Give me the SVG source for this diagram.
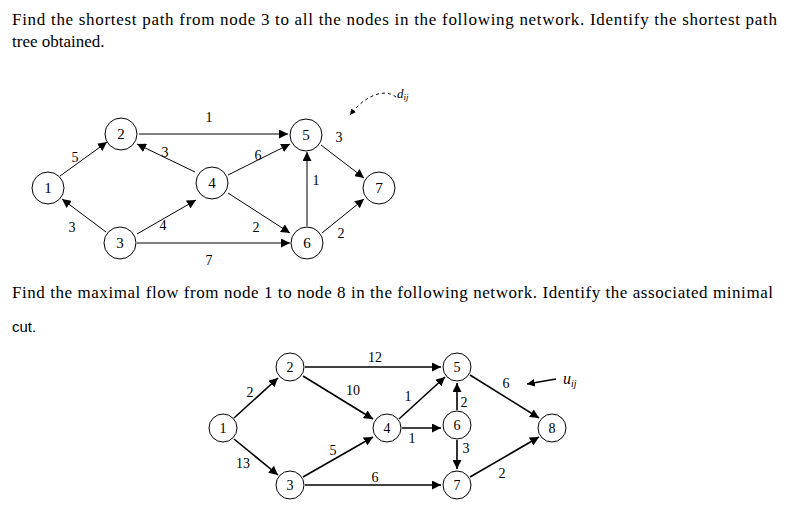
<svg xmlns="http://www.w3.org/2000/svg" width="793" height="506" viewBox="0 0 793 506">
<defs>
<style>
text{font-family:"Liberation Serif",serif;fill:#000}
.p{font-size:17px}
.n{font-size:15px;text-anchor:middle}
.b{font-size:14px;text-anchor:middle}
circle{fill:#fff;stroke:#000;stroke-width:1}
.e line{stroke:#000;stroke-width:1}
.f line{stroke:#000;stroke-width:1.6}
</style>
<marker id="a" viewBox="0 0 10 10" refX="10" refY="5" markerWidth="9" markerHeight="9" markerUnits="userSpaceOnUse" orient="auto"><path d="M0,0L10,5L0,10z"/></marker>
<marker id="c" viewBox="0 0 10 10" refX="10" refY="5" markerWidth="6" markerHeight="6" orient="auto"><path d="M0,0L10,5L0,10z"/></marker>
</defs>
<rect width="793" height="506" fill="#fff"/>
<text class="p" x="12" y="25" textLength="765">Find the shortest path from node 3 to all the nodes in the following network. Identify the shortest path</text>
<text class="p" x="12" y="47">tree obtained.</text>
<text class="p" x="12" y="298" textLength="761">Find the maximal flow from node 1 to node 8 in the following network. Identify the associated minimal</text>
<text class="p" x="12" y="332" style="font-family:'Liberation Sans',sans-serif;font-size:15px">cut.</text>
<g id="edges1" class="e" marker-end="url(#a)">
<line x1="60" y1="176" x2="107" y2="142"/>
<line x1="106" y1="232" x2="62" y2="199"/>
<line x1="139" y1="134" x2="288" y2="134"/>
<line x1="195" y1="172" x2="137" y2="144"/>
<line x1="137" y1="234" x2="196" y2="200"/>
<line x1="228" y1="175" x2="290" y2="144"/>
<line x1="228" y1="193" x2="290" y2="233"/>
<line x1="137" y1="243" x2="290" y2="243"/>
<line x1="307" y1="226" x2="307" y2="152"/>
<line x1="321" y1="145" x2="364" y2="178"/>
<line x1="322" y1="233" x2="364" y2="199"/>
</g>
<g id="t1" class="b">
<text x="209" y="122">1</text><text x="75" y="162">5</text><text x="165" y="157">3</text>
<text x="258" y="160">6</text><text x="339" y="142">3</text><text x="316" y="185">1</text>
<text x="72" y="232">3</text><text x="163" y="230">4</text><text x="256" y="232">2</text>
<text x="341" y="238">2</text><text x="209" y="265">7</text>
</g>
<path d="M396,97 C385,88 365,95 350,115" fill="none" stroke="#000" stroke-dasharray="3,3" marker-end="url(#c)"/>
<text x="397" y="98" style="font-size:13px;font-style:italic">d<tspan font-size="9" dy="2">ij</tspan></text>
<g id="n1-1"><circle cx="48" cy="188" r="16"/><text class="n" x="48" y="193">1</text></g>
<g id="n1-2"><circle cx="121" cy="134" r="16"/><text class="n" x="121" y="139">2</text></g>
<g id="n1-3"><circle cx="120" cy="243" r="16"/><text class="n" x="120" y="248">3</text></g>
<g id="n1-4"><circle cx="212" cy="183" r="16"/><text class="n" x="212" y="188">4</text></g>
<g id="n1-5"><circle cx="306" cy="135" r="16"/><text class="n" x="306" y="140">5</text></g>
<g id="n1-6"><circle cx="307" cy="243" r="16"/><text class="n" x="307" y="248">6</text></g>
<g id="n1-7"><circle cx="379" cy="188" r="16"/><text class="n" x="379" y="193">7</text></g>
<g id="edges2" class="f" marker-end="url(#a)">
<line x1="234" y1="418" x2="278" y2="378"/>
<line x1="234" y1="439" x2="278" y2="475"/>
<line x1="305" y1="367" x2="441" y2="367"/>
<line x1="303" y1="376" x2="373" y2="419"/>
<line x1="303" y1="477" x2="373" y2="437"/>
<line x1="305" y1="485" x2="441" y2="485"/>
<line x1="399" y1="419" x2="445" y2="377"/>
<line x1="402" y1="428" x2="441" y2="428"/>
<line x1="457" y1="410" x2="457" y2="383"/>
<line x1="457" y1="440" x2="457" y2="469"/>
<line x1="470" y1="375" x2="539" y2="418"/>
<line x1="470" y1="477" x2="539" y2="437"/>
</g>
<g id="t2" class="b">
<text x="250" y="397">2</text><text x="375" y="362">12</text><text x="353" y="395">10</text>
<text x="408" y="401">1</text><text x="464" y="407">2</text><text x="506" y="388">6</text>
<text x="412" y="443">1</text><text x="466" y="453">3</text><text x="243" y="468">13</text>
<text x="333" y="455">5</text><text x="375" y="482">6</text><text x="502" y="478">2</text>
</g>
<line x1="556" y1="379" x2="527" y2="384" stroke="#000" stroke-width="1.3" marker-end="url(#c)"/>
<text x="563" y="384" style="font-size:16px;font-style:italic">u<tspan font-size="10" dy="3">ij</tspan></text>
<g id="n2-1"><circle cx="223" cy="428" r="14" stroke-width="1.5"/><text class="b" x="223" y="433">1</text></g>
<g id="n2-2"><circle cx="290" cy="367" r="14" stroke-width="1.5"/><text class="b" x="290" y="372">2</text></g>
<g id="n2-3"><circle cx="290" cy="485" r="14" stroke-width="1.5"/><text class="b" x="290" y="490">3</text></g>
<g id="n2-4"><circle cx="387" cy="428" r="14" stroke-width="1.5"/><text class="b" x="387" y="433">4</text></g>
<g id="n2-5"><circle cx="457" cy="367" r="14" stroke-width="1.5"/><text class="b" x="457" y="372">5</text></g>
<g id="n2-6"><circle cx="457" cy="425" r="14" stroke-width="1.5"/><text class="b" x="457" y="430">6</text></g>
<g id="n2-7"><circle cx="457" cy="485" r="14" stroke-width="1.5"/><text class="b" x="457" y="490">7</text></g>
<g id="n2-8"><circle cx="552" cy="428" r="14" stroke-width="1.5"/><text class="b" x="552" y="433">8</text></g>
</svg>
